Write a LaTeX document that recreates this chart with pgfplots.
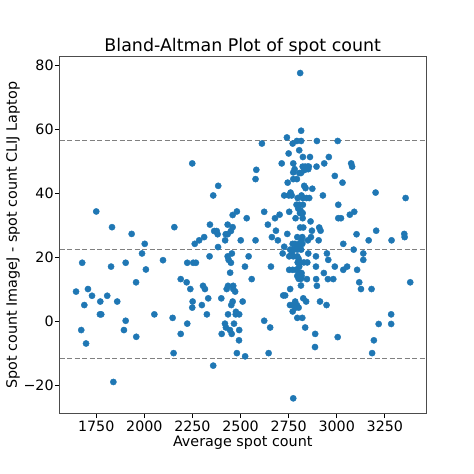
\documentclass[border=0pt]{standalone}
\usepackage{fontspec}
\setmainfont{DejaVu Sans}
\usepackage{pgfplots}
\usepackage{pgfplotstable}
\pgfplotsset{compat=1.18}
\definecolor{mplblue}{HTML}{1F77B4}

\pgfplotstableread{
x y
2249 49.3
2384 42.3
2358 39.3
1750 34.3
2459 33.2
2481 34.3
2532 32.2
1832 29.4
2156 29.4
2341 30.2
2433 30.2
2459 29.4
2363 28.2
2376 28.2
2381 27.2
2423 27.2
2433 27.2
2450 28.2
1934 27.3
2002 24.2
2262 24.2
2285 25.3
2311 26.3
2420 25.3
2501 25.3
2383 23.2
1988 21.2
1677 18.3
1827 17.1
1903 18.3
2008 16.2
2097 19.1
2223 18.3
2254 18.3
2268 18.3
2339 20.3
2433 20.3
2455 21.2
2438 19.2
2450 18.3
2523 17.1
2542 20.3
2446 15.2
2189 13.2
2220 12.2
1957 12.2
2239 10.1
2305 11.1
2315 10.1
2435 11.1
2428 10.1
2462 11.1
2462 10.1
2472 9.3
1645 9.3
1707 10.1
1728 8.0
1807 8.0
1771 6.2
1688 5.1
1859 6.2
2251 6.2
2332 7.2
2400 7.2
2459 6.2
2511 6.2
2249 4.3
2299 5.1
2452 5.1
1769 2.2
1776 2.2
2052 2.2
2325 2.2
2435 2.2
2476 3.0
2475 2.2
2493 2.2
2147 1.1
1903 0.2
2223 -0.7
2419 -0.7
2424 -1.9
2466 -0.7
1672 -2.7
1894 -2.7
2445 -2.7
2493 -2.7
2189 -3.9
2402 -3.9
2454 -3.9
1958 -4.8
2492 -5.9
1697 -6.9
2152 -9.9
2481 -9.9
2524 -10.9
2358 -13.8
1839 -18.9
2810 77.5
2815 59.5
2741 57.4
2793 56.3
2815 56.3
2771 55.5
2611 55.5
2897 56.3
3005 56.3
2805 53.4
2750 52.4
2824 51.3
2861 51.3
2959 51.3
2714 49.3
2774 49.3
2935 49.3
3075 49.3
3080 48.3
2823 48.3
2836 48.3
2849 48.3
2855 48.3
2895 48.3
2781 47.5
2774 46.5
2835 47.5
2852 47.5
2831 47.2
2814 46.3
2805 46.3
2582 47.3
2578 44.4
2774 44.4
2793 44.4
2990 45.4
2745 43.3
3030 43.3
2831 42.3
2838 41.6
2873 41.4
3202 40.2
3358 38.5
2760 40.2
2766 39.3
2751 39.3
2727 39.3
2928 39.3
2797 38.5
2817 39.3
2824 38.5
2843 38.5
2857 38.5
2791 36.4
2805 36.4
2824 36.4
3008 36.4
2800 35.2
2812 34.6
2823 33.8
2809 33.8
2753 34.2
2623 34.2
2703 33.3
2679 32.2
3068 33.3
3091 34.2
2786 32.2
2823 32.2
3008 32.2
3022 32.2
2642 30.2
2864 31.2
2810 29.3
2826 29.3
2909 29.3
2916 28.3
2684 28.3
2743 27.3
2663 26.3
2694 25.3
2578 25.3
2795 26.3
2821 26.3
2817 25.3
2805 24.2
2821 24.2
2871 28.3
2866 26.3
2850 25.3
2906 25.3
2771 24.2
2783 24.2
2793 23.6
2803 23.4
2727 23.3
2758 22.4
2777 22.4
2795 22.4
2815 22.4
2719 21.2
2766 21.2
2852 21.2
2949 21.2
3088 22.4
3103 27.2
3034 24.2
3166 25.3
3205 28.3
3285 25.3
3351 27.3
3353 26.3
3138 21.2
3138 19.2
2753 20.3
2774 20.3
2795 20.3
2802 19.5
2810 18.4
2829 18.4
2847 18.4
2797 18.4
2892 20.3
2956 19.2
2658 17.1
2805 17.1
2753 16.1
2771 16.1
2788 16.1
2805 15.3
2817 15.1
2892 17.1
2990 17.1
3034 16.1
3054 17.1
3106 16.1
2933 15.1
2795 14.2
2802 13.3
2817 14.2
2814 13.3
2845 13.2
2893 13.2
2954 13.2
2982 13.2
2558 13.2
2814 11.2
2897 11.1
3117 12.2
3126 10.1
3181 10.1
3382 12.2
2758 10.1
2722 8.1
2732 8.1
2826 7.2
2841 6.2
2913 6.2
2784 6.2
2757 5.1
2774 5.1
2793 5.1
2802 4.3
2786 4.3
2771 3.1
2947 5.1
2795 1.1
2821 1.1
2623 0.2
2654 -1.9
2836 -1.9
2888 -3.9
3005 -4.9
2887 -8.0
3283 2.2
3283 -0.8
3218 -0.8
3193 -5.9
3184 -9.9
2646 -9.9
2774 -24.0
}\spots

\pgfplotstableread{
x y
1559 56.3
3464 56.3
}\upperloa
\pgfplotstableread{
x y
1559 22.4
3464 22.4
}\meanline
\pgfplotstableread{
x y
1559 -11.5
3464 -11.5
}\lowerloa

\begin{document}
\begin{tikzpicture}
\useasboundingbox (0,0) rectangle (474bp,474bp);
\begin{axis}[
  at={(59.5bp,60.3bp)}, anchor=south west,
  width=366.5bp, height=357bp, scale only axis,
  xmin=1559, xmax=3464, ymin=-28.8, ymax=82.6,
  xtick={1750,2000,2250,2500,2750,3000,3250},
  xticklabels={1750,2000,2250,2500,2750,3000,3250},
  ytick={-20,0,20,40,60,80},
  yticklabels={−20,0,20,40,60,80},
  tick align=outside, xtick pos=bottom, ytick pos=left,
  major tick length=4.5bp,
  every tick/.style={black, line width=0.8bp},
  axis line style={black!70, line width=0.8bp},
  tick label style={font=\fontsize{14.3}{16}\selectfont},
  xticklabel style={anchor=north, inner sep=0pt, yshift=-2.5bp},
  yticklabel style={anchor=east, inner sep=0pt, xshift=-1.2bp},
  label style={font=\fontsize{14.4}{16}\selectfont},
  xlabel={Average spot count},
  ylabel={Spot count ImageJ - spot count CLIJ Laptop},
  xlabel style={at={(axis description cs:0.5,-0.0924)}, anchor=base, inner sep=0pt},
  ylabel style={at={(axis description cs:-0.1165,0.5)}, anchor=base, inner sep=0pt},
  every axis title shift=0pt,
  title={Bland-Altman Plot of spot count},
  title style={at={(axis description cs:0.5,1.014)}, anchor=base, inner sep=0pt, font=\fontsize{17.5}{20}\selectfont},
]
\addplot[only marks, mark=*, mark size=3.1bp, color=mplblue, mark options={draw=mplblue, fill=mplblue}] table {\spots};
\addplot[gray, line width=1bp, dash pattern=on 5bp off 2.5bp] table {\upperloa};
\addplot[gray, line width=1bp, dash pattern=on 5bp off 2.5bp] table {\meanline};
\addplot[gray, line width=1bp, dash pattern=on 5bp off 2.5bp] table {\lowerloa};
\end{axis}
\end{tikzpicture}
\end{document}
